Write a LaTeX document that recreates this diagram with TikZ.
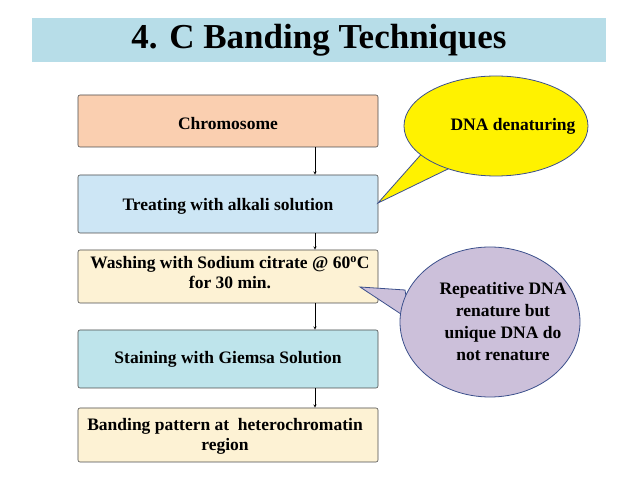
\documentclass[tikz,border=0pt]{standalone}
\usepackage{fontspec}
\setmainfont{Liberation Serif}
\begin{document}
\begin{tikzpicture}[x=1pt,y=-1pt,
  box/.style={draw=black!70,line width=0.6pt,rounded corners=2pt,minimum width=300pt},
  arr/.style={->,>=stealth,line width=0.5pt},
  txt/.style={align=center,font=\fontsize{17.5}{20}\selectfont\bfseries}]
\useasboundingbox (0,0) rectangle (638,478);
\fill[white] (0,0) rectangle (638,478);
\node[fill={rgb,255:red,183;green,221;blue,232},minimum width=574pt,minimum height=44pt,font=\fontsize{35}{38}\selectfont\bfseries] (title) at (319,40) {4. C Banding Techniques};
\node[box,fill={rgb,255:red,250;green,207;blue,176},minimum height=52pt] (b1) at (228,121) {};
\node[box,fill={rgb,255:red,205;green,230;blue,245},minimum height=58pt] (b2) at (228,204) {};
\node[box,fill={rgb,255:red,253;green,242;blue,212},minimum height=53pt] (b3) at (228,276.5) {};
\node[box,fill={rgb,255:red,190;green,228;blue,235},minimum height=58pt] (b4) at (228,359) {};
\node[box,fill={rgb,255:red,253;green,242;blue,212},minimum height=54pt] (b5) at (228,435) {};
\node[txt] (t1) at (228,124) {Chromosome};
\node[txt] (t2) at (228,206) {Treating with alkali solution};
\node[txt] (t3) at (230,273) {Washing with Sodium citrate @ 60\textsuperscript{o}C\\for 30 min.};
\node[txt] (t4) at (228,359) {Staining with Giemsa Solution};
\node[txt] (t5) at (225,436) {Banding pattern at\ \ heterochromatin\\region};
\draw[arr] (b1.south -| 315,0) -- (b2.north -| 315,0);
\draw[arr] (b2.south -| 315,0) -- (b3.north -| 315,0);
\draw[arr] (b3.south -| 315,0) -- (b4.north -| 315,0);
\draw[arr] (b4.south -| 315,0) -- (b5.north -| 315,0);
% callout 1
\coordinate (p1) at (378,203);
\draw[fill=yellow,draw={rgb,255:red,60;green,80;blue,140},line width=0.8pt] (p1) -- (425,150) -- (450,168) -- cycle;
\draw[fill=yellow,draw={rgb,255:red,60;green,80;blue,140},line width=0.8pt] (496,126) ellipse (92 and 50);
\node[txt] (c1) at (513,126) {DNA denaturing};
% callout 2
\coordinate (p2) at (360,287);
\draw[fill={rgb,255:red,204;green,192;blue,218},draw={rgb,255:red,60;green,80;blue,140},line width=0.8pt] (p2) -- (405,290) -- (410,320) -- cycle;
\draw[fill={rgb,255:red,204;green,192;blue,218},draw={rgb,255:red,60;green,80;blue,140},line width=0.8pt] (490,322) ellipse (90 and 75);
\node[txt,font=\fontsize{17.5}{22}\selectfont\bfseries] (c2) at (503,322) {Repeatitive DNA\\renature but\\unique DNA do\\not renature};
\end{tikzpicture}
\end{document}
